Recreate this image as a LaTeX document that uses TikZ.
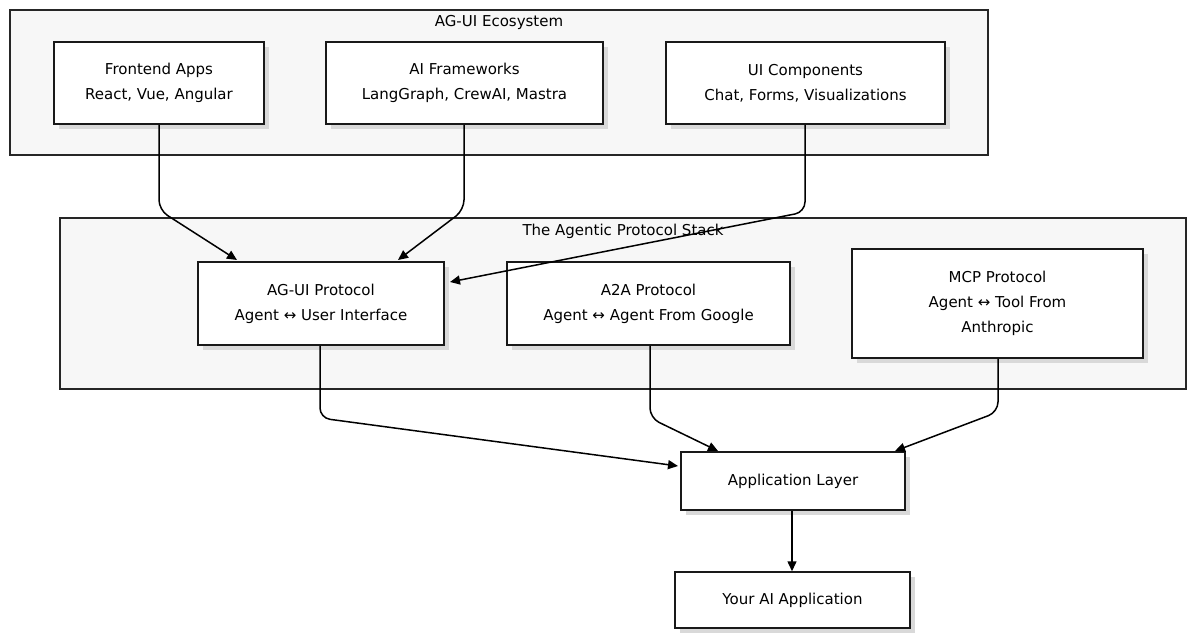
\documentclass[tikz,border=0pt]{standalone}
\usepackage{fontspec}
\setmainfont{DejaVu Sans}
\usetikzlibrary{arrows.meta}
\begin{document}
\begin{tikzpicture}[x=1pt,y=-1pt,
  grp/.style={draw=black!85,line width=1.5pt,fill=gray!6},
  box/.style={draw=black!90,line width=1.5pt,fill=white,align=center,font=\fontsize{15}{25}\selectfont,inner sep=0pt},
  shadowbox/.style={fill=gray!25,draw=none},
  arr/.style={line width=1.5pt,-{Triangle[length=10pt,width=9pt]},rounded corners=10pt},
  lbl/.style={font=\fontsize{15}{18}\selectfont}]
\useasboundingbox (0,0) rectangle (1200,640);
\fill[white] (0,0) rectangle (1200,640);
% groups
\draw[grp] (10,10) rectangle (988,155);
\node[lbl] (ecot) at (499,22) {AG-UI Ecosystem};
\draw[grp] (60,218) rectangle (1186,389);
\node[lbl] (stackt) at (623,231) {The Agentic Protocol Stack};
% node macro via shadow + node
\foreach \a/\b/\c/\d in {54/42/264/124,326/42/603/124,666/42/945/124,198/262/444/345,507/262/790/345,852/249/1143/358,681/452/905/510,675/572/910/628}
  \fill[gray!30] (\a+5,\b+5) rectangle (\c+5,\d+5);
\node[box,minimum width=210pt,minimum height=82pt] (fe) at (159,83) {Frontend Apps\\React, Vue, Angular};
\node[box,minimum width=277pt,minimum height=82pt] (ai) at (464.5,83) {AI Frameworks\\LangGraph, CrewAI, Mastra};
\node[box,minimum width=279pt,minimum height=82pt] (ui) at (805.5,83) {UI Components\\Chat, Forms, Visualizations};
\node[box,minimum width=246pt,minimum height=83pt] (ag) at (321,303.5) {AG-UI Protocol\\Agent ↔ User Interface};
\node[box,minimum width=283pt,minimum height=83pt] (a2a) at (648.5,303.5) {A2A Protocol\\Agent ↔ Agent From Google};
\node[box,minimum width=291pt,minimum height=109pt] (mcp) at (997.5,303.5) {MCP Protocol\\Agent ↔ Tool From\\Anthropic};
\node[box,minimum width=224pt,minimum height=58pt] (app) at (793,481) {Application Layer};
\node[box,minimum width=235pt,minimum height=56pt] (you) at (792.5,600) {Your AI Application};
% arrows
\draw[arr] (fe.south -| 159,0) -- (159,210) -- (237,260);
\draw[arr] (ai.south -| 464,0) -- (464,210) -- (398,260);
\draw[arr] (ui.south -| 805,0) -- (805,212) -- (450,282);
\draw[arr] (ag.south -| 320,0) -- (320,418) -- (678,466);
\draw[arr] (a2a.south -| 650,0) -- (650,418) -- (718,451);
\draw[arr] (mcp.south -| 998,0) -- (998,412) -- (895,451);
\draw[arr] (app.south -| 792,0) -- (you.north -| 792,0);
\end{tikzpicture}
\end{document}
